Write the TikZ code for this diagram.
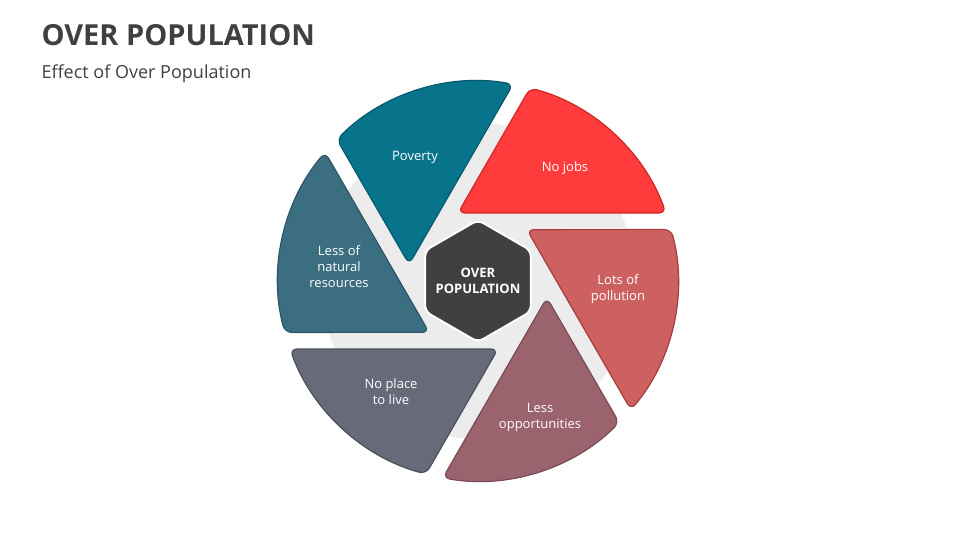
\documentclass[tikz,border=0pt]{standalone}
\usepackage{fontspec}
\setmainfont{Open Sans}
\usetikzlibrary{shapes.geometric}
\definecolor{tgray}{HTML}{404040}
\tikzset{
  blade/.style={rounded corners=7pt, line width=1.2pt},
  lbl/.style={text=white, font=\fontsize{13}{16}\selectfont, align=center},
}
\begin{document}
\begin{tikzpicture}[x=1pt,y=1pt]
\useasboundingbox (0,0) rectangle (960,-540);
\node[anchor=west, text=tgray, font=\fontsize{29}{32}\selectfont\bfseries] (title) at (38,-35) {OVER POPULATION};
\node[anchor=west, text=tgray, font=\fontsize{18}{22}\selectfont] (sub) at (38,-74) {Effect of Over Population};
\coordinate (C) at (478,-281);
\fill[gray!15] (C) circle (158);
\foreach \rot/\fc/\dc in {0/FF3B3B/D02828, -60/CD6060/A83C3C, -120/9B636E/7A4A55, 180/676A78/4C4F5C, 120/3B6E80/2C5666, 60/08748C/065A6D}{
  \definecolor{fc}{HTML}{\fc}\definecolor{dc}{HTML}{\dc}
  \begin{scope}[shift={(C)}, rotate=\rot]
    \draw[blade, fill=fc, draw=dc] (-20,68) -- (188,68) arc[start angle=19.9, end angle=74.9, radius=200] -- cycle;
  \end{scope}
}
\node[regular polygon, regular polygon sides=6, minimum size=122, fill=tgray, draw=white, line width=2pt, rounded corners=6pt, shape border rotate=0, rotate=30] (hex) at (C) {};
\node[lbl, font=\fontsize{13}{16}\selectfont\bfseries] (center) at (C) {OVER\\POPULATION};
\node[lbl] (p1) at (415,-157) {Poverty};
\node[lbl] (p2) at (565,-168) {No jobs};
\node[lbl] (p3) at (618,-289) {Lots of\\pollution};
\node[lbl] (p4) at (540,-417) {Less\\opportunities};
\node[lbl] (p5) at (391,-392) {No place\\to live};
\node[lbl] (p6) at (339,-267) {Less of\\natural\\resources};
\end{tikzpicture}
\end{document}
